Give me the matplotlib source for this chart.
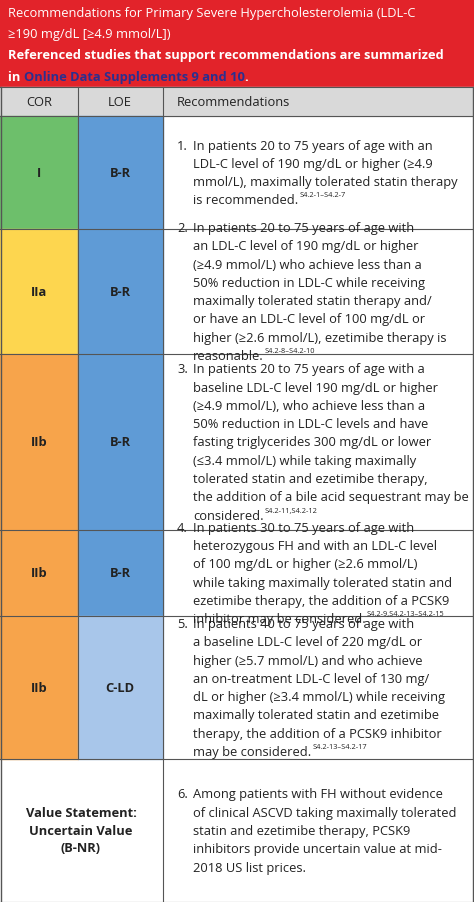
import matplotlib
matplotlib.use("Agg")
import matplotlib.pyplot as plt
from matplotlib.patches import Rectangle

plt.rcParams['font.family'] = ['Open Sans', 'DejaVu Sans']

title_lines = ["Recommendations for Primary Severe Hypercholesterolemia (LDL-C",
               "≥190 mg/dL [≥4.9 mmol/L])",
               "Referenced studies that support recommendations are summarized"]
link_text = "Online Data Supplements 9 and 10"
headers = ["COR", "LOE", "Recommendations"]
cor = ["I", "IIa", "IIb", "IIb", "IIb", "Value Statement:\nUncertain Value\n(B-NR)"]
loe = ["B-R", "B-R", "B-R", "B-R", "C-LD", ""]
cor_colors = ["#6dbf6b", "#fdd64f", "#f7a44b", "#f7a44b", "#f7a44b", "#ffffff"]
loe_colors = ["#5f9bd6", "#5f9bd6", "#5f9bd6", "#5f9bd6", "#a8c6ea", "#ffffff"]
recs = [
 ["In patients 20 to 75 years of age with an", "LDL-C level of 190 mg/dL or higher (≥4.9",
  "mmol/L), maximally tolerated statin therapy", "is recommended."],
 ["In patients 20 to 75 years of age with", "an LDL-C level of 190 mg/dL or higher",
  "(≥4.9 mmol/L) who achieve less than a", "50% reduction in LDL-C while receiving",
  "maximally tolerated statin therapy and/", "or have an LDL-C level of 100 mg/dL or",
  "higher (≥2.6 mmol/L), ezetimibe therapy is", "reasonable."],
 ["In patients 20 to 75 years of age with a", "baseline LDL-C level 190 mg/dL or higher",
  "(≥4.9 mmol/L), who achieve less than a", "50% reduction in LDL-C levels and have",
  "fasting triglycerides 300 mg/dL or lower", "(≤3.4 mmol/L) while taking maximally",
  "tolerated statin and ezetimibe therapy,", "the addition of a bile acid sequestrant may be",
  "considered."],
 ["In patients 30 to 75 years of age with", "heterozygous FH and with an LDL-C level",
  "of 100 mg/dL or higher (≥2.6 mmol/L)", "while taking maximally tolerated statin and",
  "ezetimibe therapy, the addition of a PCSK9", "inhibitor may be considered."],
 ["In patients 40 to 75 years of age with", "a baseline LDL-C level of 220 mg/dL or",
  "higher (≥5.7 mmol/L) and who achieve", "an on-treatment LDL-C level of 130 mg/",
  "dL or higher (≥3.4 mmol/L) while receiving", "maximally tolerated statin and ezetimibe",
  "therapy, the addition of a PCSK9 inhibitor", "may be considered."],
 ["Among patients with FH without evidence", "of clinical ASCVD taking maximally tolerated",
  "statin and ezetimibe therapy, PCSK9", "inhibitors provide uncertain value at mid-",
  "2018 US list prices."],
]
refs = ["S4.2-1–S4.2-7", "S4.2-8–S4.2-10", "S4.2-11,S4.2-12",
        "S4.2-9,S4.2-13–S4.2-15", "S4.2-13–S4.2-17", ""]
row_edges = [117, 230, 355, 531, 617, 760, 903]

W, H = 474, 903
fig = plt.figure(figsize=(W/100, H/100), dpi=100)
ax = fig.add_axes([0, 0, 1, 1])
ax.set_xlim(0, W); ax.set_ylim(H, 0); ax.axis('off')

ax.add_patch(Rectangle((0, 0), W, 88, color="#e2232a"))
fs = 9.3
for i, t in enumerate(title_lines):
    ax.text(8, 13 + 21.5*i, t, color="white", fontsize=fs, fontweight='bold' if i == 2 else 'normal', va='center')
t0 = ax.text(8, 77.5, "in ", color="white", fontsize=fs, fontweight='bold', va='center')
fig.canvas.draw()
r = fig.canvas.get_renderer()
bb = t0.get_window_extent(r)
t1 = ax.text(8 + bb.width, 77.5, link_text, color="#2b2f8f", fontsize=fs, fontweight='bold', va='center')
bb1 = t1.get_window_extent(r)
ax.text(8 + bb.width + bb1.width, 77.5, ".", color="white", fontsize=fs, fontweight='bold', va='center')

ax.add_patch(Rectangle((0, 88), W, 29, color="#d9d9d9"))
ax.text(39, 102, headers[0], fontsize=fs, va='center', ha='center', color="#222")
ax.text(120, 102, headers[1], fontsize=fs, va='center', ha='center', color="#222")
ax.text(177, 102, headers[2], fontsize=fs, va='center', ha='left', color="#222")

sp = 18.3
for i in range(6):
    y0, y1 = row_edges[i], row_edges[i+1]
    yc = (y0 + y1) / 2
    if i < 5:
        ax.add_patch(Rectangle((0, y0), 78, y1-y0, color=cor_colors[i]))
        ax.add_patch(Rectangle((78, y0), 85, y1-y0, color=loe_colors[i]))
        ax.text(39, yc, cor[i], fontsize=fs, fontweight='bold', ha='center', va='center', color="#222")
        ax.text(120, yc, loe[i], fontsize=fs, fontweight='bold', ha='center', va='center', color="#222")
    else:
        ax.text(81, yc, cor[i], fontsize=fs, fontweight='bold', ha='center', va='center', color="#222", linespacing=1.45)
    lines = recs[i]
    n = len(lines)
    ystart = yc - sp*(n-1)/2
    ax.text(177, ystart, f"{i+1}.", fontsize=fs, va='center', color="#222")
    for j, ln in enumerate(lines):
        y = ystart + sp*j
        tt = ax.text(193, y, ln, fontsize=fs, va='center', color="#222")
        if j == n-1 and refs[i]:
            fig.canvas.draw()
            b = tt.get_window_extent(r)
            ax.text(193 + b.width + 1, y - 5, refs[i], fontsize=5.3, va='center', color="#222")

for y in row_edges + [88]:
    ax.plot([0, W], [y, y], color="#555", lw=0.8)
for x in [78, 163]:
    ax.plot([x, x], [88, row_edges[5]], color="#555", lw=0.8)
ax.plot([163, 163], [row_edges[5], H], color="#555", lw=0.8)
ax.plot([0.5, 0.5], [88, H], color="#555", lw=1)
ax.plot([W-0.5, W-0.5], [88, H], color="#555", lw=1)

fig.savefig("out.png", dpi=100)
